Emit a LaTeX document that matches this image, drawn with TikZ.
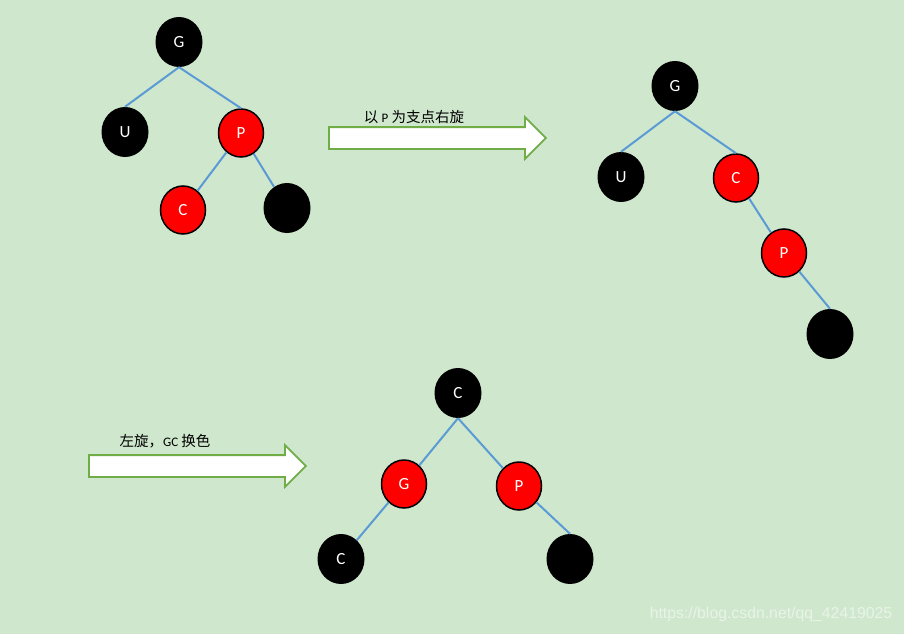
\documentclass[tikz,border=0pt]{standalone}
\usepackage{xcolor}
\usepackage{fontspec}
\setmainfont{Carlito}
\newfontfamily\cjk{Noto Sans CJK SC}
\newfontfamily\wmfont{Liberation Sans}
\usepackage{tikz}
\usetikzlibrary{shapes.geometric, shapes.arrows, arrows.meta, positioning}
\definecolor{bg}{RGB}{207, 231, 204}
\definecolor{edge}{RGB}{91, 155, 213}
\definecolor{rednode}{RGB}{255, 0, 0}
\definecolor{arrowline}{RGB}{112, 173, 71}

\begin{document}
\begin{tikzpicture}[
  x=1pt, y=-1pt,
  blk/.style    = {ellipse, fill=black, inner sep=0pt,
                   minimum width=47pt, minimum height=50pt,
                   font=\fontsize{17}{17}\selectfont, text=white},
  red/.style    = {ellipse, fill=rednode, draw=black, line width=1.5pt,
                   inner sep=0pt, minimum width=45pt, minimum height=48pt,
                   font=\fontsize{17}{17}\selectfont, text=white},
  link/.style   = {draw=edge, line width=2pt},
  bigarr/.style = {single arrow, draw=arrowline, fill=white, line width=1.8pt,
                   minimum height=217pt, inner xsep=0pt, inner ysep=10pt,
                   single arrow head extend=10pt},
  lbl/.style    = {font=\cjk\fontsize{14.5}{14.5}\selectfont, inner sep=0pt},
]
  \useasboundingbox[fill=bg] (0,0) rectangle (904,634);

  % Before rotation
  \node[blk] (g1) at (179,42)  {G};
  \node[blk] (u1) at (125,132) {U};
  \node[red] (p1) at (241,133) {P};
  \node[red] (c1) at (183,210) {C};
  \node[blk] (n1) at (287,208) {};
  \draw[link] (g1.south) -- (u1.north);
  \draw[link] (g1.south) -- (p1.north);
  \draw[link] (p1) -- (c1);
  \draw[link] (p1) -- (n1);

  % Right rotation about P
  \node[bigarr] (a1) at (432,138) {};
  \node[lbl] (t1) at (414,117) {以 {\rmfamily\fontsize{13}{13}\selectfont P} 为支点右旋};

  % After right rotation
  \node[blk] (g2) at (675,86)  {G};
  \node[blk] (u2) at (621,177) {U};
  \node[red] (c2) at (736,178) {C};
  \node[red] (p2) at (784,253) {P};
  \node[blk] (n2) at (830,334) {};
  \draw[link] (g2.south) -- (u2.north);
  \draw[link] (g2.south) -- (c2.north);
  \draw[link] (c2) -- (p2);
  \draw[link] (p2) -- (n2.north);

  % Left rotation and recolour
  \node[bigarr] (a2) at (192,466) {};
  \node[lbl] (t2) at (165,441) {左旋，{\rmfamily\fontsize{13}{13}\selectfont GC} 换色};

  % After left rotation
  \node[blk] (c3) at (458,393) {C};
  \node[red] (g3) at (404,484) {G};
  \node[red] (p3) at (519,486) {P};
  \node[blk] (c4) at (341,559) {C};
  \node[blk] (n3) at (570,559) {};
  \draw[link] (c3.south) -- (g3);
  \draw[link] (c3.south) -- (p3);
  \draw[link] (g3) -- (c4);
  \draw[link] (p3) -- (n3.north);

  % Watermark
  \node[font=\wmfont\fontsize{15.8}{15.8}\selectfont, text=white!55!bg, inner sep=0pt]
    (wm) at (771,614) {https://blog.csdn.net/qq\_42419025};
\end{tikzpicture}
\end{document}
